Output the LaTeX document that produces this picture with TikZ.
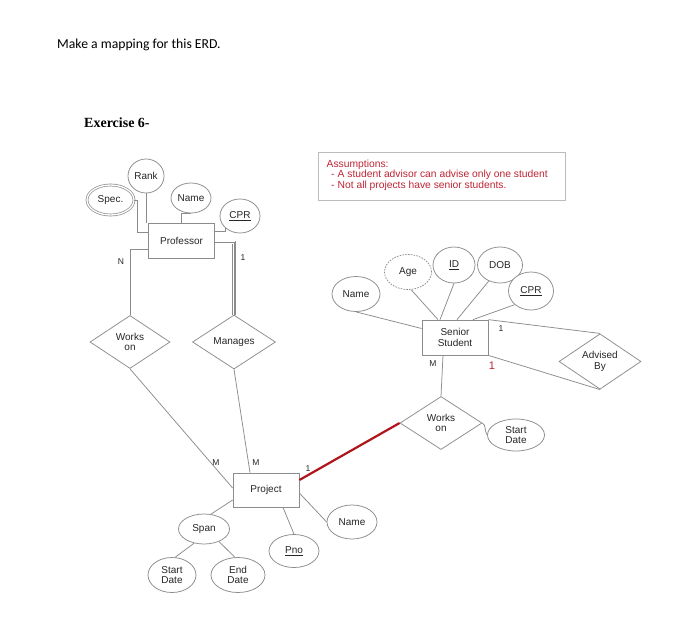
\documentclass[tikz,border=0pt]{standalone}
\usepackage{fontspec}
\setmainfont{Liberation Sans}
\newfontfamily\calfont{Carlito}
\newfontfamily\serffont{Liberation Serif}
\usetikzlibrary{shapes.geometric,calc,shadows}
\definecolor{lnc}{HTML}{8C8C8C}
\definecolor{txt}{HTML}{262626}
\definecolor{redline}{HTML}{B0151B}
\definecolor{redtxt}{HTML}{BE2535}
\definecolor{boxc}{HTML}{BBBBBB}
\begin{document}
\begin{tikzpicture}[x=1pt,y=-1pt,
  every node/.style={font=\fontsize{10}{10.5}\selectfont, text=txt},
  attr/.style={ellipse, draw=lnc, fill=white, line width=0.75pt, inner sep=0pt, align=center},
  ent/.style={rectangle, draw=lnc, fill=white, line width=0.75pt, inner sep=0pt, align=center},
  rel/.style={diamond, draw=lnc, fill=white, line width=0.75pt, inner sep=0pt, align=center},
  cn/.style={draw=lnc, line width=0.75pt},
  card/.style={font=\fontsize{8.5}{8.5}\selectfont, text=txt, inner sep=0pt}]
\useasboundingbox (0,0) rectangle (700,626);
\fill[white] (0,0) rectangle (700,626);

% headers
\node[anchor=west, font=\calfont\fontsize{13.7}{14}\selectfont, text=black, inner sep=0pt] (hdr) at (57,45) {Make a mapping for this ERD.};
\node[anchor=west, font=\serffont\bfseries\fontsize{14}{15}\selectfont, text=black, inner sep=0pt] (ex) at (84,123) {Exercise 6-};

% assumptions
\node[draw=boxc, fill=white, line width=0.6pt, minimum width=247, minimum height=48, anchor=north west,
  drop shadow={shadow xshift=1pt, shadow yshift=-1pt, opacity=0.25}] (assump) at (318,152) {};
\node[anchor=north west, text=redtxt, align=left, inner sep=0pt, font=\fontsize{10.3}{9.3}\selectfont] (atext) at (326.5,159.5)
  {Assumptions:\\\hspace*{4.5pt}-\hspace{3pt}A student advisor can advise only one student\\\hspace*{4.5pt}-\hspace{3pt}Not all projects have senior students.};

% professor side
\node[ent, minimum width=66, minimum height=35] (prof) at (181.5,240.5) {Professor};
\node[attr, double=white, double distance=1.3pt, line width=0.7pt, minimum width=47, minimum height=30] (spec) at (110.5,200) {Spec.};
\node[attr, minimum width=36, minimum height=34] (rank) at (146,176) {Rank};
\node[attr, minimum width=40, minimum height=30] (pname) at (191,198) {Name};
\node[attr, minimum width=40, minimum height=34] (pcpr) at (240,216) {\underline{CPR}};
\node[rel, minimum width=80, minimum height=53] (workp) at (130,342) {Works\\on};
\node[rel, minimum width=83, minimum height=54] (manages) at (234,342) {Manages};

\draw[cn] (spec.east) -- ++(3,0) |- ([yshift=8.5pt]prof.west);
\draw[cn] (rank.south) -- (rank.south |- prof.north);
\draw[cn] (pname.south) -| (prof.north);
\draw[cn] (pcpr.south west) |- ([yshift=9pt]prof.east);
\draw[cn] ([yshift=-8.5pt]prof.west) -| (workp.north);
\draw[draw=lnc, line width=0.6pt, double=white, double distance=2.4pt] ([yshift=-2pt]prof.east) -| (manages.north);
\draw[draw=lnc, line width=0.5pt] ([yshift=-2pt]prof.east) -| (manages.north);

\node[card] (cN) at (121,262) {N};
\node[card] (c1p) at (243,258) {1};

% project
\node[ent, minimum width=66, minimum height=34] (proj) at (266,490) {Project};
\node[attr, minimum width=51, minimum height=30] (span) at (204,529) {Span};
\node[attr, minimum width=48, minimum height=35] (sd1) at (172,575) {Start\\Date};
\node[attr, minimum width=54, minimum height=35] (ed) at (238,575) {End\\Date};
\node[attr, minimum width=50, minimum height=33] (pno) at (294,551) {\underline{Pno}};
\node[attr, minimum width=50, minimum height=34] (name2) at (352,522) {Name};

\draw[cn] (workp.south) -- ([yshift=2pt]proj.west);
\draw[cn] (manages.south) -- ([xshift=-16pt]proj.north);
\draw[cn] ([yshift=-10pt]proj.west) -- (span.65);
\draw[cn] (sd1.80) -- (span.235);
\draw[cn] (ed.100) -- (span.-40);
\draw[cn] ([xshift=17pt]proj.south) -- (pno.north);
\draw[cn] ([yshift=-3pt]proj.east) -- (name2.west);

\node[card] (cM1) at (216,463) {M};
\node[card] (cM2) at (256,463) {M};
\node[card] (c1j) at (308,469) {1};

% student side
\node[ent, minimum width=66, minimum height=35] (stud) at (455,337.5) {Senior\\Student};
\node[attr, minimum width=48, minimum height=35] (sname) at (356,294) {Name};
\node[attr, dash pattern=on 1.6pt off 1.2pt, minimum width=47, minimum height=35] (age) at (408,272) {Age};
\node[attr, minimum width=42, minimum height=36] (sid) at (454,265) {\underline{ID}};
\node[attr, minimum width=45, minimum height=36] (dob) at (500,265) {DOB};
\node[attr, minimum width=45, minimum height=38] (scpr) at (531,291) {\underline{CPR}};
\node[rel, minimum width=82, minimum height=53] (advby) at (600,361.5) {Advised\\By};
\node[rel, minimum width=82, minimum height=53] (works) at (441,423) {Works\\on};
\node[attr, minimum width=57, minimum height=32] (sd2) at (516,435) {Start\\Date};

\draw[cn] (sname.south) -- ([yshift=9pt]stud.west);
\draw[cn] (age.-80) -- ([xshift=-17pt]stud.north);
\draw[cn] (sid.south) -- ([xshift=-15pt]stud.north);
\draw[cn] (dob.-125) -- ([xshift=2pt]stud.north);
\draw[cn] (scpr.-140) -- ([xshift=18pt]stud.north);
\draw[cn] (stud.north east) -- (advby.north);
\draw[cn] (stud.south east) -- (advby.south);
\draw[cn] ([xshift=-12pt]stud.south) -- (works.north);
\draw[cn] (works.east) .. controls +(4,2) and +(-3,-4) .. (sd2.west);
\draw[draw=redline, line width=2.2pt] ([yshift=10pt]proj.east) -- (works.west);

\node[card] (c1s) at (501,329) {1};
\node[card] (cMs) at (433,364) {M};
\node[font=\fontsize{11}{11}\selectfont, text=redtxt, inner sep=0pt] (c1r) at (492,366) {1};
\end{tikzpicture}
\end{document}
